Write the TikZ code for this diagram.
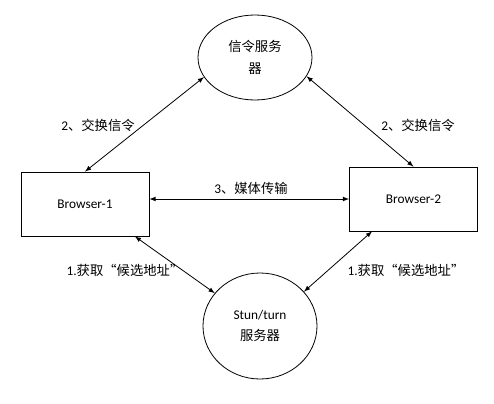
\documentclass[tikz,border=0pt]{standalone}
\usepackage{fontspec}
\setmainfont{Carlito}
\newfontfamily\cjk{Noto Sans CJK SC}
\usetikzlibrary{calc,positioning,arrows,shapes.geometric}
\tikzset{
>=latex,
  browserbox/.style={
    rectangle,
    draw=black, line width=.6pt,
    minimum width=96pt,
    minimum height=48pt,
    text centered},
  server/.style={
    ellipse,
    draw=black, line width=.6pt,
    minimum width=85.5pt,
    inner sep=0pt,
    align=center,
    font=\fontsize{10}{16}\selectfont},
  link/.style={draw, line width=.6pt, <->},
  lbl/.style={inner sep=0pt, font=\fontsize{10}{12}\selectfont},
}

\begin{document}
\begin{tikzpicture}
  [x=0.75pt, y=-0.75pt]
  \useasboundingbox (0,0) rectangle (494,404);
  % servers
  \node[server, minimum height=63.75pt] (sig) at (255,57.5) {\cjk 信令服务\\\cjk 器};
  \node[server, minimum height=79.5pt] (stun) at (260,326) {Stun/turn\\\cjk 服务器};
  % the two browsers
  \node[browserbox] (bro1) at (85,204) {\fontsize{10}{12}\selectfont Browser-1};
  \node[browserbox] (bro2) at (413.5,199) {\fontsize{10}{12}\selectfont Browser-2};
  % signalling
  \draw[link] (bro1.north) -- (sig.201);
  \draw[link] (sig.340) -- (bro2.north);
  \node[lbl] (sig1) at (98,125) {2{\cjk 、交换信令}};
  \node[lbl] (sig2) at (418,125) {2{\cjk 、交换信令}};
  % media
  \draw[link] (bro1.east |- bro2.west) -- (bro2.west);
  \node[lbl] (media) at (251,188) {3{\cjk 、媒体传输}};
  %% candidates from stun/turn
  \draw[link] (bro1.327) -- (stun.144);
  \draw[link] (bro2.218) -- (stun.38);
  \node[lbl] (cand1) at (125,270) {1.{\cjk 获取“候选地址”}};
  \node[lbl] (cand2) at (406,270) {1.{\cjk 获取“候选地址”}};
\end{tikzpicture}
\end{document}
